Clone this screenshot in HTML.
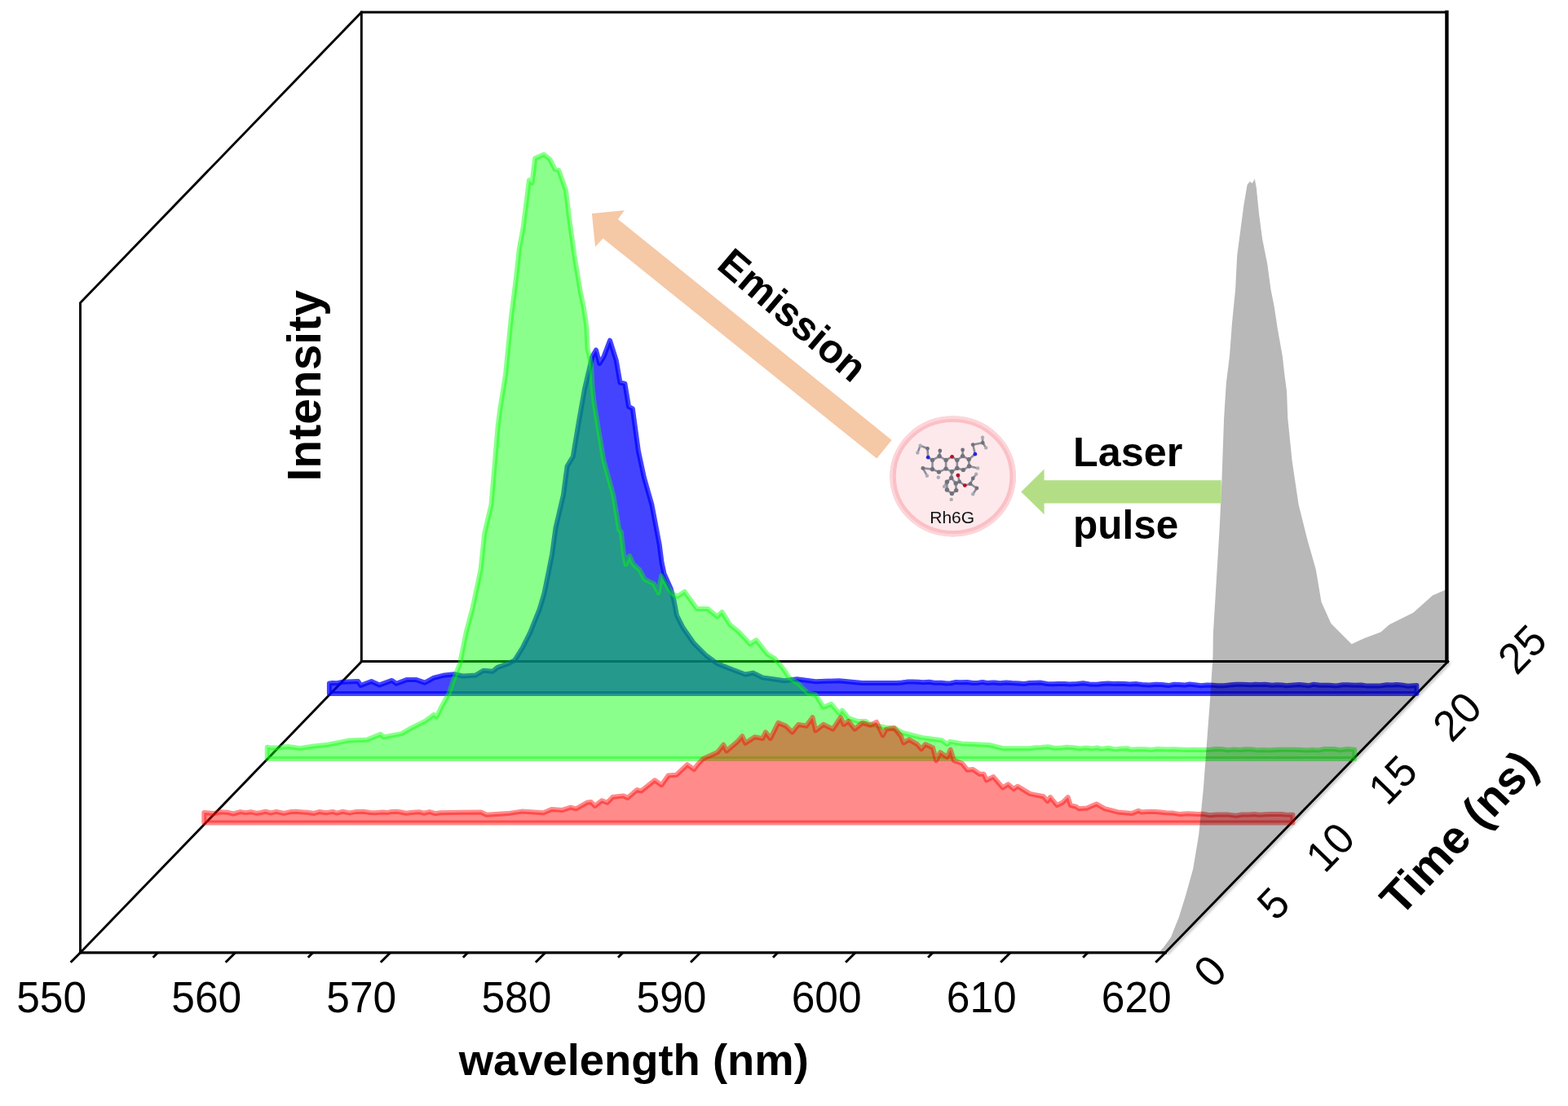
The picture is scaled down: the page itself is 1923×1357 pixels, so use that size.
<!DOCTYPE html>
<html><head><meta charset="utf-8"><title>Time-resolved emission</title>
<style>
html,body{margin:0;padding:0;background:#fff;}
body{width:1923px;height:1357px;overflow:hidden;}
svg{display:block;font-family:"Liberation Sans",sans-serif;}
</style></head>
<body>
<svg width="1923" height="1357" viewBox="0 0 1923 1357">
<rect width="1923" height="1357" fill="#fff"/>
<g stroke="#000" stroke-width="2.9" fill="none" stroke-linecap="square" stroke-linejoin="miter">
  <polyline points="98.5,1168.8 98.5,371.5 443.3,15 1774.4,15"/>
  <line x1="443.3" y1="15" x2="443.3" y2="811.5"/>
  <line x1="443.3" y1="811.5" x2="1774.4" y2="811.5"/>
  <line x1="98.6" y1="1168.8" x2="443.3" y2="811.8"/>
  <line x1="98.6" y1="1168.8" x2="1429.3" y2="1168.8" stroke-width="3.3"/>
  <line x1="1429.3" y1="1168.8" x2="1775.8" y2="811.6"/>
  <line x1="1774.4" y1="15" x2="1774.4" y2="811.5" stroke-width="4.4"/>
</g>
<g stroke="#000" stroke-width="3.0" stroke-linecap="butt"><line x1="98.6" y1="1168.8" x2="86.6" y2="1180.8"/><line x1="193.6" y1="1168.8" x2="187.6" y2="1174.8"/><line x1="288.7" y1="1168.8" x2="276.7" y2="1180.8"/><line x1="383.8" y1="1168.8" x2="377.8" y2="1174.8"/><line x1="478.8" y1="1168.8" x2="466.8" y2="1180.8"/><line x1="573.9" y1="1168.8" x2="567.9" y2="1174.8"/><line x1="668.9" y1="1168.8" x2="656.9" y2="1180.8"/><line x1="764.0" y1="1168.8" x2="758.0" y2="1174.8"/><line x1="859.0" y1="1168.8" x2="847.0" y2="1180.8"/><line x1="954.0" y1="1168.8" x2="948.0" y2="1174.8"/><line x1="1049.1" y1="1168.8" x2="1037.1" y2="1180.8"/><line x1="1144.1" y1="1168.8" x2="1138.1" y2="1174.8"/><line x1="1239.2" y1="1168.8" x2="1227.2" y2="1180.8"/><line x1="1334.2" y1="1168.8" x2="1328.2" y2="1174.8"/><line x1="1429.3" y1="1168.8" x2="1417.3" y2="1180.8"/></g>
<g stroke-width="6" stroke-linejoin="round">
  <path d="M403.9,851.0 L403.9,838.6 L408.0,838.1 L413.5,838.2 L420.0,836.8 L439.1,836.0 L442.4,841.0 L455.5,836.0 L465.4,840.4 L480.6,834.9 L486.1,838.8 L499.2,833.9 L510.1,833.9 L521.0,837.7 L532.0,831.7 L545.1,828.4 L557.1,827.3 L567.9,829.5 L583.2,828.5 L592.8,822.7 L604.3,823.7 L610.1,818.9 L623.5,814.1 L631.1,810.3 L640.7,795.0 L650.3,775.8 L661.8,747.1 L667.5,727.9 L673.3,699.2 L677.1,680.0 L681.5,647.6 L690.9,607.5 L695.6,572.1 L702.7,560.4 L709.8,517.9 L716.9,477.8 L726.3,437.7 L731.0,429.5 L735.3,446.0 L740.4,437.7 L748.0,417.7 L755.8,442.4 L760.5,469.6 L766.4,470.7 L771.1,499.0 L775.8,501.4 L782.9,553.3 L790.0,586.3 L799.4,619.3 L808.8,668.8 L811.5,690.0 L814.5,704.0 L822.7,722.2 L826.6,737.5 L830.0,755.0 L837.5,770.0 L850.9,789.2 L866.2,804.5 L879.6,814.1 L898.8,821.8 L914.1,827.5 L923.7,825.6 L935.2,831.4 L948.6,833.3 L962.0,835.2 L977.4,833.3 L1000.3,836.2 L1029.1,835.2 L1057.8,838.1 L1100.0,838.1 L1106.0,837.5 L1112.4,836.6 L1119.5,836.6 L1126.2,836.7 L1131.5,837.3 L1139.8,836.8 L1145.7,837.7 L1154.6,837.7 L1161.1,838.4 L1166.2,838.2 L1172.3,836.9 L1177.7,837.2 L1186.1,837.0 L1193.4,837.9 L1199.9,837.7 L1205.0,836.9 L1210.8,838.0 L1217.5,837.4 L1220.0,837.6 L1226.2,838.3 L1234.0,837.4 L1241.3,838.0 L1249.9,838.5 L1256.0,839.0 L1261.4,838.1 L1269.5,837.7 L1276.4,837.6 L1284.1,839.0 L1291.4,839.3 L1297.7,839.0 L1305.0,838.9 L1311.9,839.4 L1320.7,838.9 L1328.4,838.2 L1336.3,839.4 L1345.3,839.8 L1351.4,839.1 L1359.1,838.5 L1366.0,838.9 L1371.4,838.8 L1379.5,839.0 L1385.4,839.5 L1394.0,839.1 L1400.8,840.0 L1409.4,840.6 L1417.9,839.7 L1424.6,840.0 L1433.2,841.1 L1440.0,839.8 L1445.9,839.9 L1452.8,840.6 L1458.8,839.5 L1465.5,840.2 L1472.8,841.3 L1480.6,840.5 L1488.0,840.8 L1493.2,841.2 L1501.3,841.2 L1509.6,840.3 L1516.2,839.8 L1523.7,839.8 L1528.9,840.0 L1534.5,840.3 L1539.6,839.7 L1545.2,839.9 L1551.6,839.7 L1560.2,840.8 L1565.7,840.2 L1572.0,840.4 L1577.5,841.3 L1586.5,840.6 L1593.5,839.9 L1598.8,840.4 L1604.8,841.3 L1610.4,839.8 L1619.3,840.8 L1624.8,840.8 L1629.8,840.8 L1638.8,841.4 L1646.6,840.3 L1653.1,840.2 L1661.2,840.8 L1669.4,840.5 L1675.2,841.4 L1684.3,841.4 L1692.6,841.4 L1700.6,840.3 L1707.6,840.6 L1712.7,840.0 L1718.7,840.4 L1726.5,841.7 L1737.4,840.9 L1737.4,851.0 Z" fill="#0000ff" fill-opacity="0.733" stroke="#0000ff" stroke-opacity="0.733"/>
  <path d="M327.7,931.0 L327.7,916.8 L333.0,917.6 L342.0,917.6 L348.5,916.2 L354.3,916.1 L360.1,916.9 L367.3,918.1 L385.0,915.5 L401.6,913.8 L418.8,910.4 L427.4,908.6 L449.7,907.8 L466.8,900.9 L470.3,904.4 L492.6,900.1 L504.6,893.2 L521.7,884.6 L532.0,876.9 L535.5,879.5 L542.3,865.7 L550.9,850.3 L554.5,839.0 L564.1,814.1 L571.7,775.8 L579.4,747.1 L585.5,718.3 L589.5,699.2 L594.2,654.7 L602.5,619.3 L610.7,522.6 L613.6,500.0 L620.0,460.0 L627.0,388.8 L633.1,340.2 L636.7,306.2 L641.6,279.4 L647.7,230.8 L648.9,221.0 L652.5,224.7 L656.2,194.3 L667.1,189.5 L674.4,195.5 L680.5,207.7 L685.3,208.9 L693.9,233.2 L698.7,272.1 L704.8,315.9 L712.1,359.7 L715.7,376.7 L719.2,400.0 L720.6,427.8 L725.1,447.2 L726.5,474.0 L728.6,494.3 L740.4,565.0 L752.2,607.5 L759.3,650.0 L761.7,652.3 L765.0,680.0 L767.4,692.4 L772.1,682.0 L776.5,692.0 L784.4,699.2 L790.5,710.7 L802.0,716.4 L807.6,727.5 L811.0,706.8 L819.0,720.5 L824.5,728.5 L831.0,731.7 L839.5,726.0 L854.7,747.1 L868.1,747.1 L879.6,756.6 L885.4,750.9 L895.0,766.2 L906.5,775.8 L919.9,790.2 L927.5,785.4 L941.0,802.6 L950.5,808.4 L960.1,819.9 L967.8,831.4 L979.3,839.0 L990.8,850.5 L1000.3,852.4 L1009.9,867.8 L1019.5,863.9 L1029.1,875.4 L1032.9,871.6 L1040.6,881.2 L1052.1,885.0 L1061.7,885.0 L1067.4,888.9 L1086.6,892.7 L1096.6,893.2 L1106.6,899.0 L1129.9,904.9 L1154.9,908.2 L1161.5,913.2 L1164.9,909.9 L1179.8,912.4 L1213.1,914.0 L1229.8,918.2 L1263.1,918.2 L1270.0,917.2 L1276.9,917.0 L1285.2,916.2 L1292.8,917.8 L1301.0,917.7 L1307.9,916.8 L1316.2,917.2 L1324.4,918.5 L1331.0,917.6 L1339.9,918.4 L1345.5,917.4 L1351.0,918.9 L1359.3,917.7 L1367.7,919.4 L1375.3,918.4 L1382.5,918.2 L1387.5,919.8 L1395.1,919.2 L1403.9,919.2 L1412.5,920.0 L1418.3,919.1 L1424.4,919.2 L1431.8,919.4 L1440.0,919.3 L1448.7,919.7 L1455.5,920.1 L1464.2,919.8 L1473.0,920.0 L1480.1,920.0 L1485.1,919.8 L1490.8,919.0 L1499.0,919.3 L1505.9,920.3 L1513.2,919.6 L1520.2,920.0 L1528.4,919.2 L1535.7,919.4 L1541.7,920.4 L1548.8,920.0 L1556.9,920.6 L1563.6,920.0 L1570.7,919.8 L1578.5,919.7 L1585.6,919.8 L1594.5,920.1 L1603.0,920.6 L1609.0,919.9 L1617.9,920.4 L1623.4,919.1 L1630.1,919.0 L1636.0,919.0 L1643.8,920.2 L1652.4,919.1 L1661.2,919.7 L1661.2,931.0 Z" fill="#00ff00" fill-opacity="0.455" stroke="#00ff00" stroke-opacity="0.455"/>
  <path d="M250.3,1009.5 L250.3,997.1 L256.0,997.5 L261.5,998.2 L270.5,996.3 L279.4,996.8 L286.3,998.5 L294.7,996.1 L301.4,997.1 L307.7,996.2 L314.0,997.7 L319.0,997.2 L325.7,995.7 L332.0,997.4 L339.1,995.9 L348.1,997.9 L357.1,996.0 L363.1,995.8 L371.3,996.4 L376.7,996.8 L385.4,997.9 L391.4,996.1 L400.2,997.2 L408.0,995.9 L413.2,997.6 L419.9,995.8 L428.7,997.4 L437.0,995.9 L445.5,995.8 L454.0,996.9 L460.3,997.2 L469.1,996.4 L474.5,997.1 L480.4,995.9 L486.0,995.8 L491.8,996.5 L497.9,997.7 L504.1,997.0 L509.7,996.6 L514.7,996.3 L519.7,997.7 L526.9,996.1 L533.8,998.2 L540.0,997.3 L565.0,996.8 L589.9,996.4 L596.6,999.8 L623.2,998.1 L639.8,995.6 L666.5,997.3 L676.5,993.1 L689.8,993.9 L699.8,990.6 L706.4,992.3 L719.7,984.8 L724.7,984.0 L729.7,988.9 L738.0,982.3 L744.7,984.8 L751.3,978.1 L764.7,976.5 L769.7,979.0 L781.3,969.0 L786.3,970.6 L802.9,957.3 L811.3,963.2 L819.6,951.5 L829.6,950.7 L842.9,938.2 L851.2,944.0 L856.6,936.8 L862.4,931.0 L879.6,923.3 L887.3,913.8 L891.1,921.4 L904.5,909.9 L910.3,903.2 L914.1,911.8 L925.6,904.2 L935.2,906.1 L939.0,898.4 L944.8,906.1 L954.4,886.9 L963.9,890.8 L971.6,898.4 L979.3,888.9 L988.9,890.8 L996.5,880.2 L1000.3,896.5 L1009.9,888.9 L1021.4,894.6 L1031.0,880.2 L1034.8,888.9 L1040.6,885.0 L1048.2,894.6 L1057.8,886.9 L1067.4,889.8 L1075.1,886.0 L1082.7,902.3 L1086.7,894.9 L1096.6,893.2 L1105.0,903.2 L1108.3,911.5 L1114.9,907.4 L1124.9,913.2 L1129.9,919.0 L1134.9,913.2 L1144.1,917.4 L1148.2,933.2 L1153.2,923.2 L1161.5,929.0 L1165.7,919.8 L1169.9,933.2 L1179.8,936.5 L1186.5,944.8 L1193.2,944.0 L1201.5,949.8 L1206.5,949.8 L1209.8,957.3 L1218.1,953.1 L1229.8,966.4 L1236.4,962.3 L1243.1,968.1 L1248.1,964.8 L1263.1,973.9 L1279.7,977.3 L1284.7,983.1 L1288.0,978.1 L1296.3,988.1 L1303.0,984.8 L1309.7,978.1 L1313.0,988.1 L1319.6,989.7 L1323.0,992.2 L1333.0,991.4 L1344.6,986.4 L1354.6,992.2 L1371.2,996.4 L1379.5,997.2 L1387.9,998.1 L1396.2,994.7 L1400.0,996.4 L1406.0,995.9 L1412.7,995.8 L1421.1,996.2 L1430.0,997.3 L1439.0,997.6 L1447.4,999.1 L1450.0,998.8 L1456.4,998.3 L1461.8,998.5 L1469.8,999.0 L1475.4,998.8 L1483.8,1000.3 L1491.6,999.4 L1497.5,999.6 L1500.0,999.4 L1506.8,999.6 L1515.7,1000.8 L1522.9,999.5 L1531.9,999.6 L1538.3,999.0 L1544.8,999.8 L1551.8,999.3 L1558.8,999.0 L1564.8,999.1 L1571.4,999.0 L1576.4,999.5 L1585.4,999.7 L1585.4,1009.5 Z" fill="#ff0000" fill-opacity="0.455" stroke="#ff0000" stroke-opacity="0.455"/>
</g>
<path d="M1429.5,1168.8 L1422.5,1167.6 L1427.2,1162.0 L1436.0,1150.0 L1445.9,1125.0 L1453.7,1100.0 L1463.2,1066.1 L1470.2,1024.1 L1475.8,968.1 L1480.0,912.0 L1484.2,856.0 L1487.5,805.0 L1487.8,778.3 L1491.8,712.0 L1495.8,645.6 L1498.5,587.3 L1501.1,513.0 L1503.8,470.0 L1507.9,437.5 L1511.0,396.2 L1515.1,354.9 L1517.2,313.6 L1521.3,282.6 L1525.4,251.6 L1529.6,226.8 L1532.7,222.7 L1535.8,224.8 L1538.8,219.6 L1540.9,231.0 L1544.0,261.9 L1548.1,292.9 L1554.3,323.9 L1558.5,354.9 L1562.6,375.5 L1566.7,402.4 L1572.9,437.5 L1575.4,460.0 L1578.1,480.0 L1579.3,513.0 L1584.7,566.1 L1592.6,619.1 L1603.2,661.6 L1613.8,698.7 L1620.5,738.5 L1632.4,765.0 L1645.6,778.3 L1657.6,790.2 L1672.2,783.6 L1693.4,775.6 L1704.0,766.3 L1733.2,751.7 L1757.0,730.5 L1774.4,723.0 L1774.4,811.5 Z" fill="#000" fill-opacity="0.28"/>
<defs><filter id="sh" x="-5%" y="-5%" width="110%" height="110%"><feGaussianBlur stdDeviation="1.6"/></filter></defs>
<line x1="1431.5" y1="1170.2" x2="1777.6" y2="813.2" stroke="#000" stroke-opacity="0.22" stroke-width="4" filter="url(#sh)"/>
<polygon points="725.9,262.1 766,258 757.8,268.9 1093.6,539.9 1075.3,562.6 739.5,292.5 730,303.1" fill="#f5c8a6"/>
<polygon points="1252.3,603.4 1280.6,575.5 1280.6,589.2 1497.7,589.2 1497.7,617.6 1280.6,617.6 1280.6,631.3" fill="#b3de86"/>
<ellipse cx="1168.6" cy="584.5" rx="73.5" ry="70.2" fill="#fde9eb" stroke="#fbc0c6" stroke-width="7.5"/>
<ellipse cx="1168.6" cy="584.5" rx="75.6" ry="72.3" fill="none" stroke="#fcd6da" stroke-width="3.4"/>
<defs><filter id="mb" x="-10%" y="-10%" width="120%" height="120%"><feGaussianBlur stdDeviation="0.55"/></filter></defs>
<g filter="url(#mb)"><g stroke="#8d909a" stroke-width="2.6" stroke-linecap="round"><line x1="1143.5" y1="564.5" x2="1152.1" y2="559.8"/><line x1="1152.1" y1="559.8" x2="1160.1" y2="564.5"/><line x1="1160.1" y1="564.5" x2="1160.1" y2="575.1"/><line x1="1160.1" y1="575.1" x2="1151.5" y2="579.1"/><line x1="1151.5" y1="579.1" x2="1143.5" y2="575.8"/><line x1="1143.5" y1="575.8" x2="1143.5" y2="564.5"/><line x1="1160.1" y1="564.5" x2="1167.6" y2="560.3"/><line x1="1167.6" y1="560.3" x2="1173.8" y2="564.5"/><line x1="1173.8" y1="564.5" x2="1173.8" y2="574.4"/><line x1="1173.8" y1="574.4" x2="1167.4" y2="578.6"/><line x1="1167.4" y1="578.6" x2="1160.1" y2="575.1"/><line x1="1173.8" y1="564.5" x2="1180.6" y2="559.6"/><line x1="1180.6" y1="559.6" x2="1188.2" y2="563.6"/><line x1="1188.2" y1="563.6" x2="1188.6" y2="572.0"/><line x1="1188.6" y1="572.0" x2="1181.3" y2="576.6"/><line x1="1181.3" y1="576.6" x2="1173.8" y2="574.4"/><line x1="1143.5" y1="564.5" x2="1138.2" y2="561.2"/><line x1="1138.2" y1="561.2" x2="1137.5" y2="550.3"/><line x1="1137.5" y1="550.3" x2="1128.6" y2="546.8"/><line x1="1128.6" y1="546.8" x2="1125.3" y2="555.6"/><line x1="1152.1" y1="559.8" x2="1152.8" y2="553.0"/><line x1="1143.5" y1="575.8" x2="1131.8" y2="574.4"/><line x1="1131.8" y1="574.4" x2="1136.9" y2="583.7"/><line x1="1188.2" y1="563.6" x2="1195.9" y2="557.2"/><line x1="1195.9" y1="557.2" x2="1193.2" y2="545.6"/><line x1="1193.2" y1="545.6" x2="1205.2" y2="543.3"/><line x1="1205.2" y1="543.3" x2="1209.2" y2="549.4"/><line x1="1205.2" y1="543.3" x2="1205.0" y2="536.8"/><line x1="1180.6" y1="559.6" x2="1180.6" y2="551.9"/><line x1="1188.6" y1="572.0" x2="1199.2" y2="574.4"/><line x1="1167.4" y1="578.6" x2="1166.7" y2="586.4"/><line x1="1166.7" y1="586.4" x2="1161.4" y2="591.2"/><line x1="1161.4" y1="591.2" x2="1161.4" y2="601.0"/><line x1="1161.4" y1="601.0" x2="1167.4" y2="605.6"/><line x1="1167.4" y1="605.6" x2="1172.7" y2="601.6"/><line x1="1172.7" y1="601.6" x2="1172.2" y2="593.0"/><line x1="1172.2" y1="593.0" x2="1166.7" y2="586.4"/><line x1="1172.2" y1="593.0" x2="1176.6" y2="591.0"/><line x1="1176.6" y1="591.0" x2="1174.9" y2="583.2"/><line x1="1176.6" y1="591.0" x2="1183.3" y2="595.6"/><line x1="1183.3" y1="595.6" x2="1190.0" y2="593.7"/><line x1="1190.0" y1="593.7" x2="1193.2" y2="587.0"/><line x1="1193.2" y1="587.0" x2="1197.2" y2="581.7"/><line x1="1190.0" y1="593.7" x2="1197.9" y2="599.0"/><line x1="1197.9" y1="599.0" x2="1193.2" y2="606.3"/><line x1="1161.4" y1="591.2" x2="1158.0" y2="597.0"/></g><circle cx="1143.5" cy="564.5" r="2.7" fill="#6f727c"/><circle cx="1152.1" cy="559.8" r="2.7" fill="#6f727c"/><circle cx="1160.1" cy="564.5" r="2.7" fill="#6f727c"/><circle cx="1160.1" cy="575.1" r="2.7" fill="#6f727c"/><circle cx="1151.5" cy="579.1" r="2.7" fill="#6f727c"/><circle cx="1143.5" cy="575.8" r="2.7" fill="#6f727c"/><circle cx="1167.6" cy="560.3" r="2.4" fill="#b8102a"/><circle cx="1173.8" cy="564.5" r="2.7" fill="#6f727c"/><circle cx="1173.8" cy="574.4" r="2.7" fill="#6f727c"/><circle cx="1167.4" cy="578.6" r="2.7" fill="#6f727c"/><circle cx="1180.6" cy="559.6" r="2.7" fill="#6f727c"/><circle cx="1188.2" cy="563.6" r="2.7" fill="#6f727c"/><circle cx="1188.6" cy="572.0" r="2.7" fill="#6f727c"/><circle cx="1181.3" cy="576.6" r="2.7" fill="#6f727c"/><circle cx="1138.2" cy="561.2" r="2.4" fill="#2828d8"/><circle cx="1137.5" cy="550.3" r="2.4" fill="#6f727c"/><circle cx="1128.6" cy="546.8" r="2.2" fill="#a9acb5"/><circle cx="1125.3" cy="555.6" r="2.2" fill="#a9acb5"/><circle cx="1152.8" cy="553.0" r="2.4" fill="#6f727c"/><circle cx="1131.8" cy="574.4" r="2.4" fill="#6f727c"/><circle cx="1136.9" cy="583.7" r="2.2" fill="#a9acb5"/><circle cx="1195.9" cy="557.2" r="2.4" fill="#2828d8"/><circle cx="1193.2" cy="545.6" r="2.4" fill="#6f727c"/><circle cx="1205.2" cy="543.3" r="2.4" fill="#6f727c"/><circle cx="1209.2" cy="549.4" r="2.2" fill="#a9acb5"/><circle cx="1205.0" cy="536.8" r="2.2" fill="#a9acb5"/><circle cx="1180.6" cy="551.9" r="2.4" fill="#6f727c"/><circle cx="1199.2" cy="574.4" r="2.2" fill="#a9acb5"/><circle cx="1166.7" cy="586.4" r="2.7" fill="#6f727c"/><circle cx="1161.4" cy="591.2" r="2.7" fill="#6f727c"/><circle cx="1161.4" cy="601.0" r="2.7" fill="#6f727c"/><circle cx="1167.4" cy="605.6" r="2.7" fill="#6f727c"/><circle cx="1172.7" cy="601.6" r="2.7" fill="#6f727c"/><circle cx="1172.2" cy="593.0" r="2.7" fill="#6f727c"/><circle cx="1174.9" cy="583.2" r="2.4" fill="#b8102a"/><circle cx="1176.6" cy="591.0" r="2.4" fill="#6f727c"/><circle cx="1183.3" cy="595.6" r="2.4" fill="#b8102a"/><circle cx="1190.0" cy="593.7" r="2.4" fill="#6f727c"/><circle cx="1193.2" cy="587.0" r="2.4" fill="#6f727c"/><circle cx="1197.2" cy="581.7" r="2.2" fill="#a9acb5"/><circle cx="1197.9" cy="599.0" r="2.4" fill="#6f727c"/><circle cx="1193.2" cy="606.3" r="2.2" fill="#a9acb5"/><circle cx="1150.8" cy="585.7" r="2.2" fill="#a9acb5"/><circle cx="1166.7" cy="612.9" r="2.2" fill="#a9acb5"/><circle cx="1158.0" cy="597.0" r="2.2" fill="#a9acb5"/></g>
<text x="1167.7" y="642.2" text-anchor="middle" font-size="21" fill="#111">Rh6G</text>
<g font-size="51.5" fill="#000"><text transform="translate(63.1,1242.4) scale(1,1.035)" text-anchor="middle">550</text><text transform="translate(253.2,1242.4) scale(1,1.035)" text-anchor="middle">560</text><text transform="translate(443.3,1242.4) scale(1,1.035)" text-anchor="middle">570</text><text transform="translate(633.4,1242.4) scale(1,1.035)" text-anchor="middle">580</text><text transform="translate(823.5,1242.4) scale(1,1.035)" text-anchor="middle">590</text><text transform="translate(1013.6,1242.4) scale(1,1.035)" text-anchor="middle">600</text><text transform="translate(1203.7,1242.4) scale(1,1.035)" text-anchor="middle">610</text><text transform="translate(1393.8,1242.4) scale(1,1.035)" text-anchor="middle">620</text></g>
<g font-size="51.5" fill="#000"><text transform="translate(1497.2,1204.2) rotate(-46) scale(1,1.035)" text-anchor="middle">0</text><text transform="translate(1574.6,1121.2) rotate(-46) scale(1,1.035)" text-anchor="middle">5</text><text transform="translate(1644.5,1052.1) rotate(-46) scale(1,1.035)" text-anchor="middle">10</text><text transform="translate(1721.2,969.5) rotate(-46) scale(1,1.035)" text-anchor="middle">15</text><text transform="translate(1800.2,891.8) rotate(-46) scale(1,1.035)" text-anchor="middle">20</text><text transform="translate(1879.9,809.2) rotate(-46) scale(1,1.035)" text-anchor="middle">25</text></g>
<g font-weight="bold" fill="#000">
  <text x="777.2" y="1319.4" text-anchor="middle" font-size="54.4">wavelength (nm)</text>
  <text transform="translate(392.9,473.3) rotate(-90)" text-anchor="middle" font-size="57">Intensity</text>
  <text transform="translate(1803,1034.8) rotate(-46.8)" text-anchor="middle" font-size="56.5">Time (ns)</text>
  <text transform="translate(877.3,328) rotate(40.5)" font-size="49.5">Emission</text>
  <text x="1316" y="572.1" font-size="50.3">Laser</text>
  <text x="1316" y="661.3" font-size="49.5">pulse</text>
</g>
</svg>
</body></html>
